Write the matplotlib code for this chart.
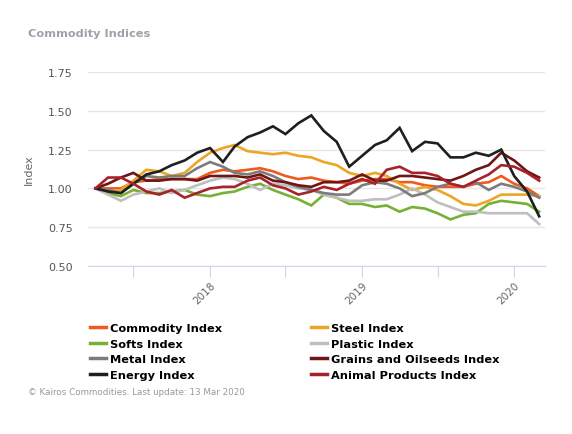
import numpy as np
import pandas as pd
import matplotlib
matplotlib.use("Agg")
import matplotlib.pyplot as plt
import matplotlib.dates as mdates

# monthly values, Apr 2017 .. Mar 2020
months = pd.date_range("2017-04-01", "2020-03-01", freq="MS")

commodity = [1.00, 1.00, 1.00, 1.04, 1.05, 1.06, 1.06, 1.06, 1.06, 1.10, 1.12, 1.11,
             1.12, 1.13, 1.11, 1.08, 1.06, 1.07, 1.05, 1.04, 1.03, 1.05, 1.06, 1.06,
             1.04, 1.04, 1.02, 1.01, 1.01, 1.01, 1.03, 1.04, 1.08, 1.03, 1.00, 0.95]
steel = [1.00, 0.98, 0.99, 1.05, 1.12, 1.11, 1.08, 1.10, 1.17, 1.23, 1.26, 1.28,
         1.24, 1.23, 1.22, 1.23, 1.21, 1.20, 1.17, 1.15, 1.10, 1.08, 1.10, 1.08,
         1.03, 0.99, 1.01, 0.99, 0.95, 0.90, 0.89, 0.92, 0.96, 0.96, 0.96, 0.95]
softs = [1.00, 0.97, 0.95, 0.99, 0.97, 0.97, 0.98, 0.99, 0.96, 0.95, 0.97, 0.98,
         1.01, 1.03, 0.99, 0.96, 0.93, 0.89, 0.96, 0.94, 0.90, 0.90, 0.88, 0.89,
         0.85, 0.88, 0.87, 0.84, 0.80, 0.83, 0.84, 0.90, 0.92, 0.91, 0.90, 0.85]
plastic = [1.00, 0.96, 0.92, 0.96, 0.98, 1.00, 0.97, 0.99, 1.02, 1.05, 1.07, 1.06,
           1.03, 0.99, 1.03, 1.02, 1.00, 0.99, 0.96, 0.94, 0.92, 0.92, 0.93, 0.93,
           0.96, 1.00, 0.96, 0.91, 0.88, 0.85, 0.85, 0.84, 0.84, 0.84, 0.84, 0.77]
metal = [1.00, 0.99, 0.97, 1.03, 1.08, 1.07, 1.08, 1.08, 1.13, 1.17, 1.14, 1.10,
         1.09, 1.11, 1.08, 1.04, 1.01, 0.99, 0.97, 0.96, 0.96, 1.02, 1.04, 1.03,
         1.00, 0.95, 0.97, 1.01, 1.03, 1.01, 1.04, 0.99, 1.03, 1.01, 0.98, 0.94]
grains = [1.00, 1.03, 1.07, 1.10, 1.05, 1.05, 1.06, 1.06, 1.05, 1.08, 1.08, 1.08,
          1.07, 1.09, 1.05, 1.04, 1.02, 1.01, 1.04, 1.04, 1.05, 1.09, 1.05, 1.05,
          1.08, 1.08, 1.07, 1.06, 1.05, 1.08, 1.12, 1.15, 1.23, 1.18, 1.11, 1.07]
energy = [1.00, 0.98, 0.97, 1.03, 1.09, 1.11, 1.15, 1.18, 1.23, 1.26, 1.17, 1.27,
          1.33, 1.36, 1.40, 1.35, 1.42, 1.47, 1.37, 1.30, 1.14, 1.21, 1.28, 1.31,
          1.39, 1.24, 1.30, 1.29, 1.20, 1.20, 1.23, 1.21, 1.25, 1.08, 0.98, 0.82]
animal = [1.00, 1.07, 1.07, 1.03, 0.98, 0.96, 0.99, 0.94, 0.97, 1.00, 1.01, 1.01,
          1.05, 1.07, 1.02, 1.00, 0.96, 0.98, 1.01, 0.99, 1.03, 1.06, 1.03, 1.12,
          1.14, 1.10, 1.10, 1.08, 1.03, 1.01, 1.05, 1.09, 1.15, 1.14, 1.10, 1.05]

series = [
    ("Commodity Index", commodity, "#f05a1e"),
    ("Steel Index", steel, "#eda526"),
    ("Softs Index", softs, "#76b134"),
    ("Plastic Index", plastic, "#bfbfbf"),
    ("Metal Index", metal, "#7c7c7c"),
    ("Grains and Oilseeds Index", grains, "#6e1616"),
    ("Energy Index", energy, "#1f1f1f"),
    ("Animal Products Index", animal, "#a8222b"),
]

fig = plt.figure(figsize=(5.72, 4.35), dpi=100)
ax = fig.add_axes([88 / 572, 1 - 267 / 435, (545 - 88) / 572, (267 - 73) / 435])

handles = {}
for name, vals, col in series:
    ln, = ax.plot(months, vals, color=col, lw=1.9, label=name, solid_joinstyle="miter")
    handles[name] = ln

ax.set_ylim(0.5, 1.75)
ax.set_yticks([0.5, 0.75, 1.0, 1.25, 1.5, 1.75])
ax.set_yticklabels(["0.50", "0.75", "1.00", "1.25", "1.50", "1.75"])
ax.set_xlim(pd.Timestamp("2017-03-14"), pd.Timestamp("2020-03-15"))

ticks = pd.to_datetime(["2017-07-01", "2018-01-01", "2018-07-01",
                        "2019-01-01", "2019-07-01", "2020-01-01"])
ax.set_xticks(ticks)
ax.set_xticklabels(["", "2018", "", "2019", "", "2020"], rotation=45,
                   ha="right", va="top", rotation_mode="anchor")

ax.grid(axis="y", color="#e6e6e6", lw=1)
ax.set_axisbelow(True)
for s in ["top", "right", "left"]:
    ax.spines[s].set_visible(False)
ax.spines["bottom"].set_color("#ccd6eb")
ax.tick_params(axis="x", length=8, color="#ccd6eb", labelsize=7.5, labelcolor="#666666", pad=2)
ax.tick_params(axis="y", length=0, labelsize=8, labelcolor="#555555", pad=11)
ax.set_ylabel("Index", color="#666666", fontsize=8, labelpad=10)

fig.text(28 / 572, 1 - 34 / 435, "Commodity Indices", fontsize=8.2, fontweight="bold",
         color="#a0a0aa", va="center")

order = ["Commodity Index", "Softs Index", "Metal Index", "Energy Index",
         "Steel Index", "Plastic Index", "Grains and Oilseeds Index", "Animal Products Index"]
leg = fig.legend([handles[n] for n in order], order, ncol=2, frameon=False,
                 loc="upper left", bbox_to_anchor=(80 / 572, 1 - 314 / 435),
                 prop={"weight": "bold", "size": 8.2}, handlelength=1.4,
                 handletextpad=0.35, labelspacing=0.48, columnspacing=7.8)
for ln in leg.get_lines():
    ln.set_linewidth(2.5)

fig.text(28 / 572, 1 - 393 / 435, "\u00a9 Kairos Commodities. Last update: 13 Mar 2020",
         fontsize=6.3, color="#999999", va="center")

fig.savefig("out.png", dpi=100, facecolor="white")
